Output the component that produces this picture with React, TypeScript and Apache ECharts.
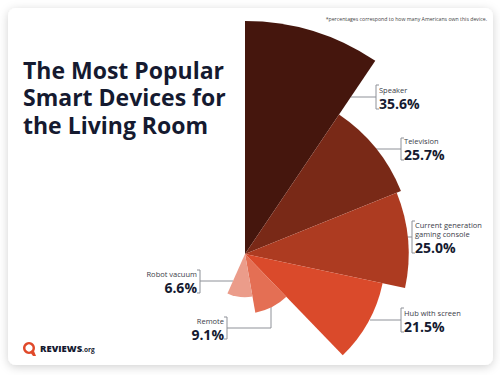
import React, { useEffect, useRef } from "react";
import * as echarts from "echarts";

const categories = [
  "Speaker",
  "Television",
  "Current generation\ngaming console",
  "Hub with screen",
  "Remote",
  "Robot vacuum",
];
const values = [35.6, 25.7, 25.0, 21.5, 9.1, 6.6];
const colors = ["#45160d", "#792917", "#ad3b21", "#da4a2b", "#e46f54", "#eb9c8a"];

const titleText = "The Most Popular\nSmart Devices for\nthe Living Room";
const footnote = "*percentages correspond to how many Americans own this device.";

// each slice spans the same angle (degrees, clockwise from 12 o'clock)
const sliceAngle = 34;

// annotation layout (positions only)
const labelPos = [
  { side: "L", bx: 376, top: 85, bottom: 109, line: [[351, 97], [376, 97]], valueY: 103 },
  { side: "L", bx: 401, top: 138, bottom: 160, line: [[376, 149], [401, 149]], valueY: 154 },
  { side: "L", bx: 412, top: 221, bottom: 253, line: [[406, 237], [412, 237]], valueY: 247 },
  { side: "L", bx: 401, top: 308, bottom: 332, line: [[370, 320], [401, 320]], valueY: 326 },
  { side: "R", bx: 227, top: 317, bottom: 339, line: [[271, 307], [271, 328], [227, 328]], valueY: 334 },
  { side: "R", bx: 200, top: 270, bottom: 293, line: [[233, 281], [200, 281]], valueY: 287 },
];

export default function App() {
  const ref = useRef<HTMLDivElement>(null);
  useEffect(() => {
    if (!ref.current) return;
    const chart = echarts.init(ref.current, null, { renderer: "svg" });
    const graphics: any[] = [
      {
        type: "rect",
        z: -10,
        shape: { x: 8, y: 8, width: 485, height: 357, r: 8 },
        style: { fill: "#ffffff", shadowBlur: 10, shadowColor: "rgba(0,0,0,0.18)", shadowOffsetY: 2 },
      },
      {
        type: "text",
        x: 23,
        y: 56,
        style: {
          text: titleText,
          fontFamily: "Open Sans",
          fontWeight: 700,
          fontSize: 23,
          lineHeight: 27.5,
          fill: "#151a30",
          verticalAlign: "top",
        },
      },
      {
        type: "text",
        x: 487,
        y: 19,
        style: {
          text: footnote,
          fontFamily: "Open Sans",
          fontSize: 5.2,
          fill: "#444",
          align: "right",
          verticalAlign: "middle",
        },
      },
      {
        type: "ring",
        shape: { cx: 29, cy: 348, r: 6, r0: 3.6 },
        style: { fill: "#e0492a" },
      },
      {
        type: "polygon",
        shape: { points: [[30, 352], [34, 351], [36, 356], [33, 356]] },
        style: { fill: "#e0492a" },
      },
      {
        type: "text",
        x: 40,
        y: 348,
        style: {
          text: "{a|REVIEWS}{b|.org}",
          verticalAlign: "middle",
          rich: {
            a: { fontFamily: "Open Sans", fontWeight: 800, fontSize: 9.5, fill: "#151a30" },
            b: { fontFamily: "Open Sans", fontWeight: 700, fontSize: 6.5, fill: "#151a30", padding: [3, 0, 0, 0] },
          },
        },
      },
    ];

    labelPos.forEach((p, i) => {
      const left = p.side === "L";
      const tick = left ? 3 : -3;
      graphics.push({
        type: "polyline",
        shape: { points: p.line },
        style: { stroke: "#8e9198", lineWidth: 1, fill: null },
      });
      graphics.push({
        type: "polyline",
        shape: {
          points: [
            [p.bx + tick, p.top],
            [p.bx, p.top],
            [p.bx, p.bottom],
            [p.bx + tick, p.bottom],
          ],
        },
        style: { stroke: "#8e9198", lineWidth: 1, fill: null },
      });
      const tx = left ? p.bx + 3 : p.bx - 3;
      graphics.push({
        type: "text",
        x: tx,
        y: p.valueY - 9,
        style: {
          text: categories[i],
          fontFamily: "Open Sans",
          fontSize: 7.5,
          lineHeight: 8.5,
          fill: "#3a3d48",
          align: left ? "left" : "right",
          verticalAlign: "bottom",
        },
      });
      graphics.push({
        type: "text",
        x: tx,
        y: p.valueY,
        style: {
          text: values[i].toFixed(1) + "%",
          fontFamily: "Open Sans",
          fontWeight: 700,
          fontSize: 14,
          lineHeight: 14,
          fill: "#151a30",
          align: left ? "left" : "right",
          verticalAlign: "middle",
        },
      });
    });

    const maxVal = Math.max(...values);

    chart.setOption({
      animation: false,
      backgroundColor: "#ffffff",
      graphic: graphics,
      polar: { center: [245, 254], radius: [0, 233] },
      angleAxis: {
        type: "value",
        min: 0,
        max: 360,
        startAngle: 90,
        clockwise: true,
        show: false,
      },
      radiusAxis: { type: "value", min: 0, max: maxVal, show: false },
      series: [
        {
          type: "custom",
          coordinateSystem: "polar",
          silent: true,
          z: 5,
          data: values.map((v, i) => [v, i]),
          renderItem: (params: any, api: any) => {
            const v = api.value(0);
            const i = api.value(1);
            const c = api.coord([0, 0]);
            const pv = api.coord([v, i * sliceAngle]);
            const r = Math.hypot(pv[0] - c[0], pv[1] - c[1]);
            const p0 = api.coord([maxVal, i * sliceAngle]);
            const p1 = api.coord([maxVal, (i + 1) * sliceAngle]);
            const a0 = Math.atan2(p0[1] - c[1], p0[0] - c[0]);
            const a1 = Math.atan2(p1[1] - c[1], p1[0] - c[0]);
            return {
              type: "sector",
              shape: { cx: c[0], cy: c[1], r0: 0, r, startAngle: a0, endAngle: a1, clockwise: true },
              style: { fill: colors[i] },
            };
          },
        },
      ],
    });
    return () => chart.dispose();
  }, []);
  return (
    <div
      ref={ref}
      style={{ position: "fixed", left: 0, top: 0, width: 500, height: 375 }}
    />
  );
}
